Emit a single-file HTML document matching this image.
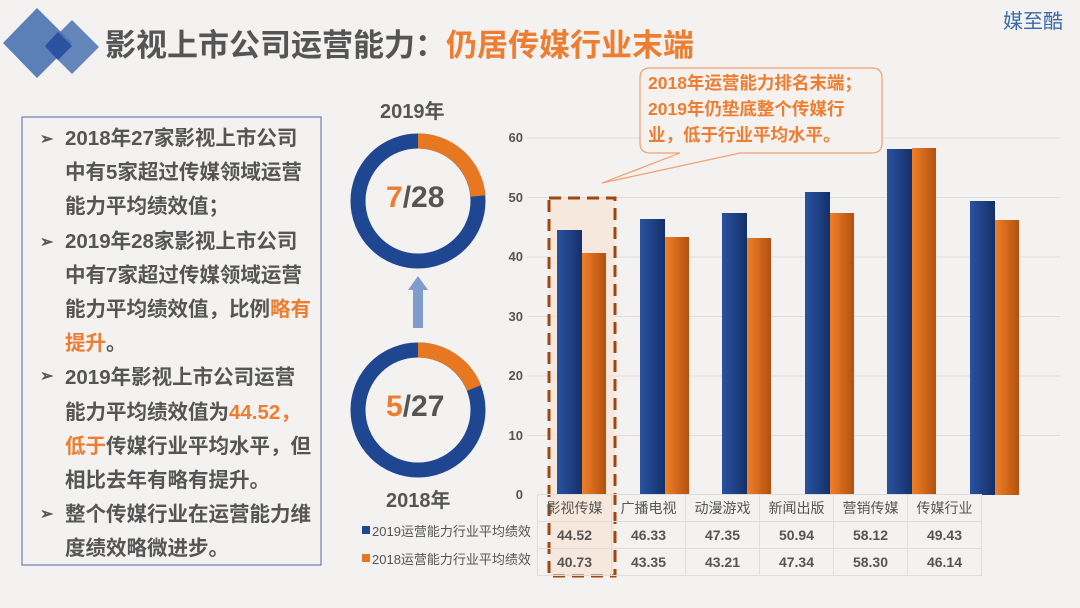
<!DOCTYPE html>
<html><head><meta charset="utf-8"><style>
body{margin:0;width:1080px;height:608px;background:#f3f2f0;position:relative;overflow:hidden;font-family:"Liberation Sans","Noto Sans CJK SC",sans-serif}
.a{position:absolute;white-space:nowrap}
.t{font-weight:bold;color:#555;font-size:20.5px;line-height:34.2px}
.o{color:#ed7d31}
.tab{position:absolute;left:537px;top:494px;border-collapse:collapse;font-size:14px;color:#555}
.tab td{border:1px solid #ddd;width:73px;text-align:center;height:26px;padding:0}
</style></head><body>
<svg class="a" style="left:0;top:0" width="1080" height="608">
<polygon points="37,8 72,43 37,78 3,43" fill="#4a72b0" opacity=".9"/>
<polygon points="72,20 99,47 72,74 45,47" fill="#4a72b0" opacity=".85"/>
<polygon points="58,32 72,46 58,60 45,46" fill="#2a52a0"/>
<circle cx="418" cy="201" r="60" fill="none" stroke="#1f4690" stroke-width="15"/>
<path d="M418 141 A60 60 0 0 1 478 196" fill="none" stroke="#e87722" stroke-width="15"/>
<circle cx="418" cy="410" r="60" fill="none" stroke="#1f4690" stroke-width="15"/>
<path d="M418 350 A60 60 0 0 1 474 388" fill="none" stroke="#e87722" stroke-width="15"/>
<polygon points="418,276 428,290 423,290 423,328 413,328 413,290 408,290" fill="#7f9ccc"/>
<g stroke="#ddd" stroke-width="1">
<line x1="527" x2="1060" y1="138" y2="138"/><line x1="527" x2="1060" y1="197.5" y2="197.5"/>
<line x1="527" x2="1060" y1="257" y2="257"/><line x1="527" x2="1060" y1="316.5" y2="316.5"/>
<line x1="527" x2="1060" y1="376" y2="376"/><line x1="527" x2="1060" y1="435.5" y2="435.5"/>
</g>
<g font-size="13" fill="#555" font-weight="bold" text-anchor="end" font-family="Liberation Sans">
<text x="523" y="142">60</text><text x="523" y="202">50</text><text x="523" y="261">40</text><text x="523" y="321">30</text><text x="523" y="380">20</text><text x="523" y="440">10</text><text x="523" y="499">0</text></g>
<rect x="549" y="198" width="66" height="378" fill="#f8e4d4" opacity=".7"/>
<defs><linearGradient id="b" x1="0" x2="1"><stop offset="0" stop-color="#2a52a0"/><stop offset="1" stop-color="#14306a"/></linearGradient>
<linearGradient id="r" x1="0" x2="1"><stop offset="0" stop-color="#f08028"/><stop offset="1" stop-color="#b4500e"/></linearGradient></defs>
<g>
<rect x="557" y="230" width="25" height="265" fill="url(#b)"/><rect x="582" y="253" width="24" height="242" fill="url(#r)"/>
<rect x="640" y="219" width="25" height="276" fill="url(#b)"/><rect x="665" y="237" width="24" height="258" fill="url(#r)"/>
<rect x="722" y="213" width="25" height="282" fill="url(#b)"/><rect x="747" y="238" width="24" height="257" fill="url(#r)"/>
<rect x="805" y="192" width="25" height="303" fill="url(#b)"/><rect x="830" y="213" width="24" height="282" fill="url(#r)"/>
<rect x="887" y="149" width="25" height="346" fill="url(#b)"/><rect x="912" y="148" width="24" height="347" fill="url(#r)"/>
<rect x="970" y="201" width="25" height="294" fill="url(#b)"/><rect x="995" y="220" width="24" height="275" fill="url(#r)"/>
</g>
<rect x="549" y="198" width="66" height="378" fill="none" stroke="#a0460e" stroke-width="3" stroke-dasharray="12,7"/>
<path d="M650 68 H872 Q882 68 882 78 V143 Q882 153 872 153 H740 L602 183 L680 153 H650 Q640 153 640 143 V78 Q640 68 650 68Z" fill="#f5f1ee" stroke="#f0a070" stroke-width="1.2"/>
<rect x="22" y="117" width="299" height="448" fill="none" stroke="#6a80b0" stroke-width="1.2"/>
<rect x="362" y="526" width="8" height="8" fill="#1f4690"/><rect x="362" y="554" width="8" height="8" fill="#e87722"/>
</svg>
<div class="a" style="left:105px;top:26px;font-size:31px;font-weight:bold;color:#555;line-height:40px">影视上市公司运营能力：<span class="o">仍居传媒行业末端</span></div>
<div class="a" style="left:1003px;top:5px;font-size:20px;color:#3a6aa8">媒至酷</div>
<div class="a" style="left:648px;top:70px;font-size:17.5px;font-weight:bold;color:#ed7d31;line-height:26px">2018年运营能力排名末端；<br>2019年仍垫底整个传媒行<br>业，低于行业平均水平。</div>
<div class="a" style="left:380px;top:95px;font-size:20px;font-weight:bold;color:#555">2019年</div>
<div class="a" style="left:386px;top:484px;font-size:20px;font-weight:bold;color:#555">2018年</div>
<div class="a" style="left:386px;top:181px;font-size:30px;font-weight:bold;color:#555"><span class="o">7</span>/28</div>
<div class="a" style="left:386px;top:390px;font-size:30px;font-weight:bold;color:#555"><span class="o">5</span>/27</div>
<div class="a t" style="left:40px;top:123px;font-size:16px">➢</div>
<div class="a t" style="left:40px;top:226px;font-size:16px">➢</div>
<div class="a t" style="left:40px;top:360px;font-size:16px">➢</div>
<div class="a t" style="left:40px;top:498px;font-size:16px">➢</div>
<div class="a t" style="left:65px;top:122px">2018年27家影视上市公司<br>中有5家超过传媒领域运营<br>能力平均绩效值；<br>2019年28家影视上市公司<br>中有7家超过传媒领域运营<br>能力平均绩效值，比例<span class="o">略有</span><br><span class="o">提升</span>。<br>2019年影视上市公司运营<br>能力平均绩效值为<span class="o">44.52，</span><br><span class="o">低于</span>传媒行业平均水平，但<br>相比去年有略有提升。<br>整个传媒行业在运营能力维<br>度绩效略微进步。</div>
<table class="tab">
<tr><td>影视传媒</td><td>广播电视</td><td>动漫游戏</td><td>新闻出版</td><td>营销传媒</td><td>传媒行业</td></tr>
<tr style="font-weight:bold"><td>44.52</td><td>46.33</td><td>47.35</td><td>50.94</td><td>58.12</td><td>49.43</td></tr>
<tr style="font-weight:bold"><td>40.73</td><td>43.35</td><td>43.21</td><td>47.34</td><td>58.30</td><td>46.14</td></tr>
</table>
<div class="a" style="left:372px;top:521px;font-size:13px;color:#555">2019运营能力行业平均绩效</div>
<div class="a" style="left:372px;top:549px;font-size:13px;color:#555">2018运营能力行业平均绩效</div>
</body></html>
